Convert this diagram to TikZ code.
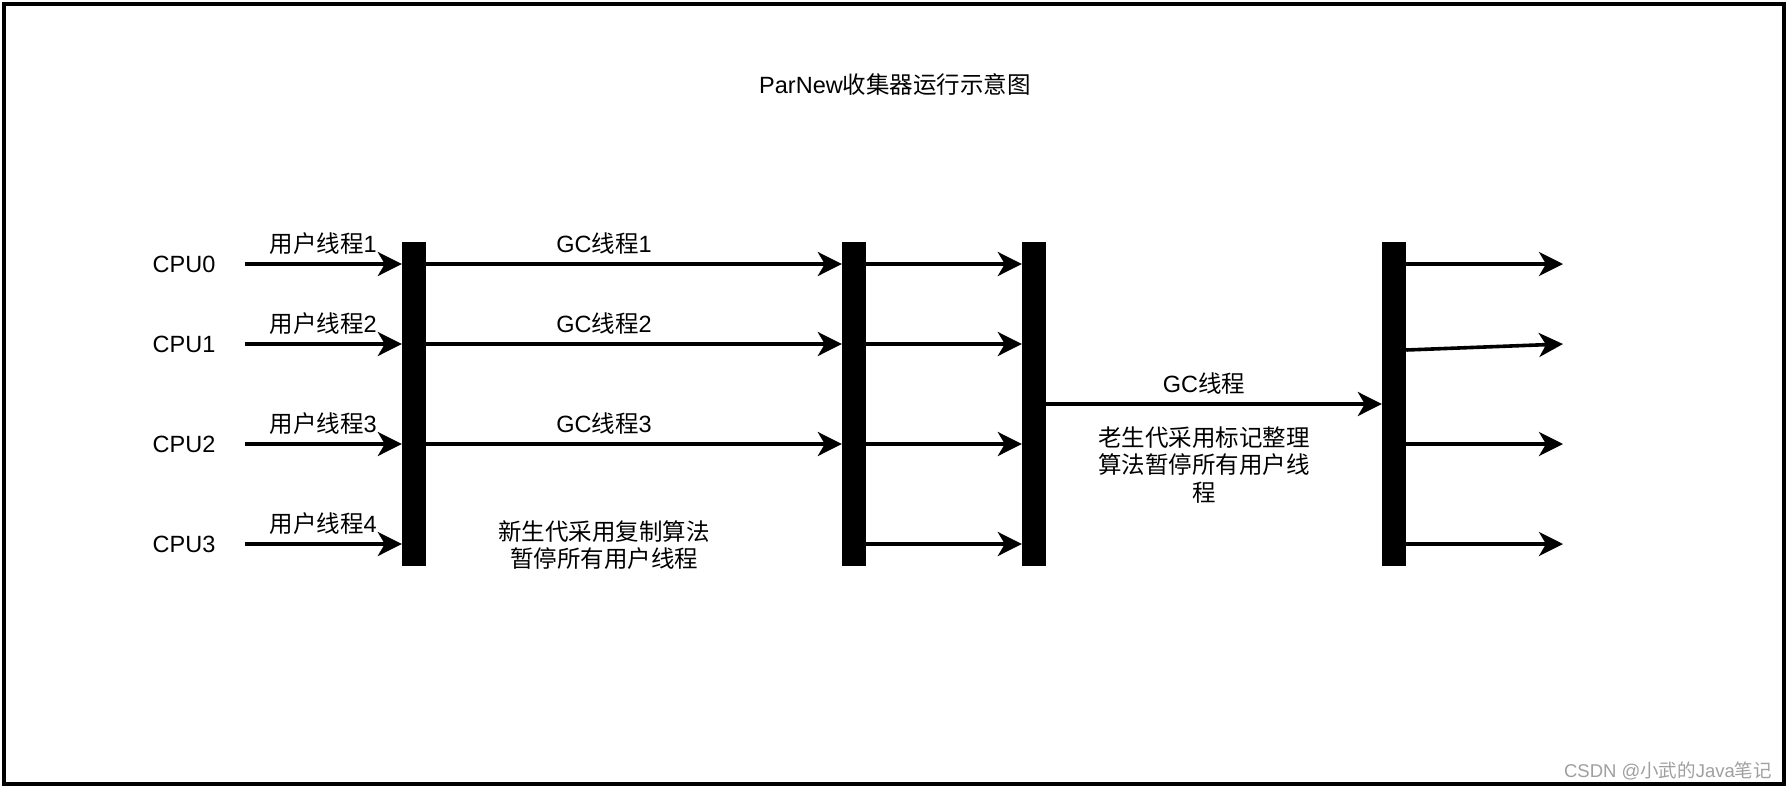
\documentclass[tikz,border=0pt]{standalone}
\usepackage{fontspec}
\setmainfont{Liberation Sans}
\newfontfamily\cjk{Noto Sans CJK SC}
\usetikzlibrary{arrows.meta,positioning}

\newcommand{\txt}{\fontsize{23.5}{27.5}\selectfont}

\begin{document}
\begin{tikzpicture}[x=1pt,y=-1pt,
	bar node/.style={rectangle,fill=black,minimum width=24pt,minimum height=324pt,inner sep=0pt},
	text node/.style={inner sep=0pt,font=\txt,align=center},
	flow/.style={-{Stealth[length=24pt,width=24pt,inset=7pt]},line width=3.6pt}
]

	\useasboundingbox (0,0) rectangle (1790,790);
	\draw[line width=4pt] (4,4) rectangle (1784,784);

	\node[text node] (title) at (895,85) {ParNew{\cjk 收集器运行示意图}};

	% stop-the-world bars
	\node[bar node] (b1) at (414,404) {};
	\node[bar node] (b2) at (854,404) {};
	\node[bar node] (b3) at (1034,404) {};
	\node[bar node] (b4) at (1394,404) {};

	\foreach \i/\y in {0/264,1/344,2/444,3/544} {
		\pgfmathtruncatemacro\n{\i+1}
		\node[text node] (cpu\i) at (184,\y) {CPU\i};
		\coordinate (out\i) at (1563,\y);
		\draw[flow] ([xshift=29pt]cpu\i.east) -- (b1.west |- cpu\i)
			node[text node,midway,above=8pt] {{\cjk 用户线程}\n};
		\draw[flow] (b2.east |- cpu\i) -- (b3.west |- cpu\i);
	}

	\foreach \i in {0,1,2} {
		\pgfmathtruncatemacro\n{\i+1}
		\draw[flow] (b1.east |- cpu\i) -- (b2.west |- cpu\i)
			node[text node,pos=0.428,above=8pt] {GC{\cjk 线程}\n};
	}
	\draw[flow] (b4.east |- cpu0) -- (out0);
	\draw[flow] ([yshift=-6pt]b4.east |- cpu1) -- (out1);
	\draw[flow] (b4.east |- cpu2) -- (out2);
	\draw[flow] (b4.east |- cpu3) -- (out3);

	% old generation
	\draw[flow] (b3.east |- b4) -- (b4.west)
		node[text node,pos=0.47,above=8pt] (gc) {GC{\cjk 线程}};

	\node[text node] (young) at (604,545) {\cjk 新生代采用复制算法\\\cjk 暂停所有用户线程};
	\node[text node] (old) at (1204,465) {\cjk 老生代采用标记整理\\\cjk 算法暂停所有用户线\\\cjk 程};

	\node[inner sep=0pt,text=gray!75,font=\fontsize{18.5}{20}\selectfont] (mark) at (1668,771) {CSDN @{\cjk 小武的}Java{\cjk 笔记}};
\end{tikzpicture}
\end{document}
